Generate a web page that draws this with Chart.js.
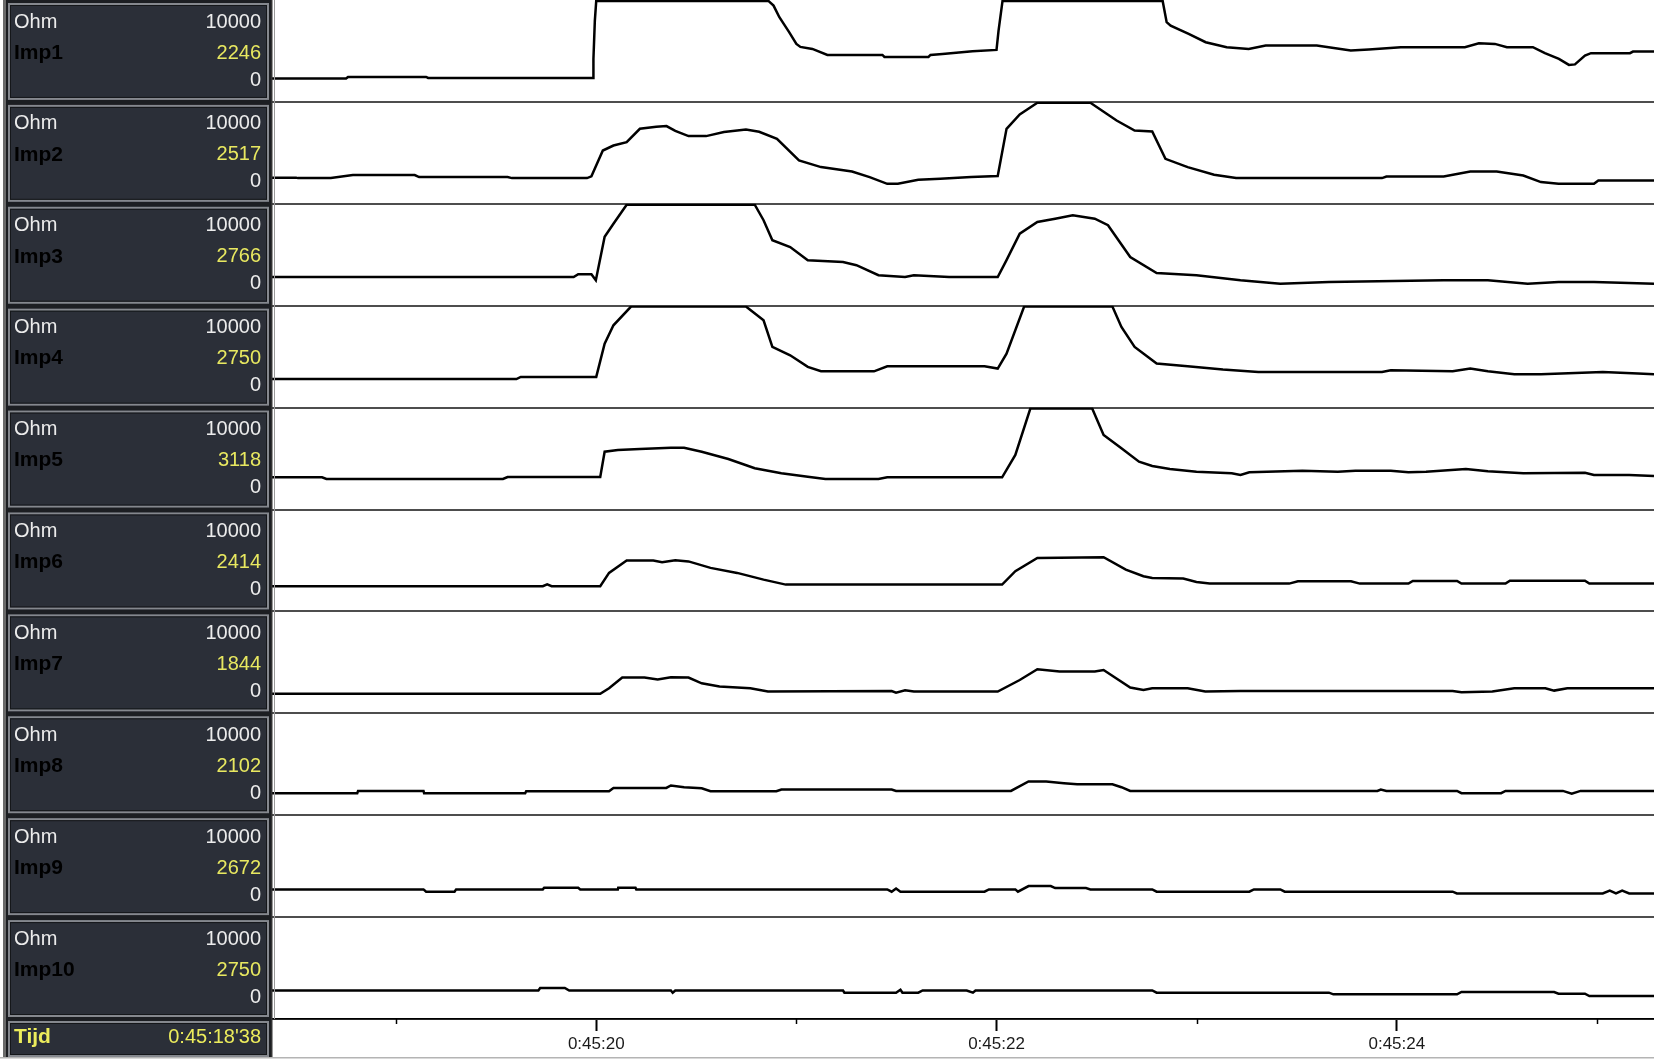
<!DOCTYPE html>
<html><head><meta charset="utf-8">
<script src="https://cdn.jsdelivr.net/npm/chart.js@4.4.1/dist/chart.umd.min.js"></script>
<style>
html,body{margin:0;padding:0;background:#fff;overflow:hidden}
#wrap{position:absolute;left:0;top:0;width:1654px;height:1060px}
</style>
</head><body>
<div id="wrap"><canvas id="c" width="1654" height="1060"></canvas></div>
<script>
// ---------- labels ----------
const channelNames = ['Imp1','Imp2','Imp3','Imp4','Imp5','Imp6','Imp7','Imp8','Imp9','Imp10'];
const unitLabel = 'Ohm';
const scaleTopLabel = '10000';
const scaleBottomLabel = '0';
const cursorValues = ['2246','2517','2766','2750','3118','2414','1844','2102','2672','2750'];
const timeTitle = 'Tijd';
const cursorTime = "0:45:18'38";
const tickSeconds = [19, 20, 21, 22, 23, 24, 25];
const tickLabels  = ['', '0:45:20', '', '0:45:22', '', '0:45:24', ''];
const timeMin = 18.38, timeMax = 25.285;

// ---------- series (time in s after 0:45:00, impedance in Ohm) ----------
const imp1T = [18.38,18.75,18.76,19.15,19.16,19.984,19.986,19.993,20.0,20.86,20.886,20.915,20.963,21.0,21.02,21.08,21.155,21.43,21.44,21.66,21.67,21.73,21.88,22.0,22.01,22.03,22.83,22.85,22.87,22.96,23.045,23.15,23.26,23.345,23.6,23.77,23.86,24.02,24.34,24.41,24.49,24.55,24.68,24.74,24.81,24.86,24.89,24.94,24.97,25.165,25.18,25.285];
const imp1V = [2246,2246,2400,2400,2300,2300,4200,8000,10000,10000,9530,8370,6900,5700,5400,5200,4600,4600,4400,4400,4600,4700,4970,5100,7000,10000,10000,7870,7530,6700,5870,5370,5200,5530,5530,5030,5130,5370,5370,5770,5700,5370,5370,4770,4200,3600,3650,4530,4770,4770,4930,4930];

const imp2T = [18.38,18.50,18.51,18.674,18.784,19.093,19.115,19.557,19.579,19.954,19.976,20.033,20.086,20.152,20.218,20.30,20.351,20.395,20.461,20.549,20.638,20.748,20.814,20.903,21.013,21.123,21.278,21.366,21.454,21.507,21.609,21.719,21.873,22.006,22.05,22.116,22.204,22.469,22.6,22.69,22.778,22.844,22.955,23.087,23.197,23.926,23.948,24.234,24.367,24.499,24.632,24.72,24.808,24.985,25.007,25.285];
const imp2V = [2517,2517,2470,2470,2770,2770,2570,2570,2470,2470,2650,5230,5730,6070,7400,7600,7670,7200,6670,6670,7070,7330,7100,6400,4230,3570,3130,2570,1900,1900,2300,2400,2570,2670,7400,8830,10000,10000,8230,7230,7130,4400,3570,2800,2470,2470,2630,2630,3130,3130,2730,2070,1900,1900,2230,2230];

const imp3T = [18.38,19.887,19.91,19.976,19.998,20.042,20.086,20.152,20.792,20.836,20.88,20.969,21.057,21.233,21.30,21.41,21.543,21.587,21.763,22.006,22.05,22.116,22.204,22.293,22.381,22.491,22.557,22.668,22.80,22.999,23.219,23.418,23.661,24.234,24.455,24.654,24.808,24.985,25.117,25.285];
const imp3V = [2766,2766,3050,3050,2450,6800,8100,10000,10000,8450,6450,5770,4450,4270,3950,2950,2770,2950,2770,2770,4450,7100,8270,8600,8950,8600,7950,4770,3170,2950,2450,2100,2270,2450,2450,2100,2270,2270,2200,2100];

const imp4T = [18.38,19.601,19.623,20.0,20.042,20.086,20.174,20.748,20.836,20.88,20.969,21.057,21.123,21.388,21.454,21.94,22.006,22.05,22.138,22.579,22.624,22.69,22.80,22.955,23.131,23.308,23.926,23.97,24.279,24.367,24.455,24.587,24.72,25.029,25.205,25.285];
const imp4V = [2750,2750,2970,2970,6300,8130,10000,10000,8630,5970,5130,3970,3530,3530,4030,4030,3800,5300,10000,10000,7970,5970,4300,4030,3700,3470,3470,3630,3530,3800,3530,3230,3230,3470,3300,3230];

const imp5T = [18.38,18.63,18.652,19.534,19.557,20.02,20.042,20.108,20.218,20.373,20.439,20.527,20.66,20.792,20.925,21.057,21.145,21.41,21.454,22.028,22.094,22.169,22.478,22.535,22.624,22.712,22.778,22.866,22.999,23.175,23.219,23.263,23.528,23.705,23.793,23.97,24.058,24.146,24.345,24.455,24.632,24.94,24.985,25.161,25.285];
const imp5V = [3118,3118,2950,2950,3150,3150,5680,5850,5950,6080,6080,5680,4950,4020,3520,3180,2950,2950,3120,3120,5350,10000,10000,7350,6020,4680,4250,3950,3680,3520,3350,3620,3780,3680,3780,3780,3620,3680,3950,3720,3520,3580,3350,3350,3250];

const imp6T = [18.38,19.733,19.755,19.777,20.02,20.064,20.152,20.285,20.329,20.395,20.461,20.571,20.704,20.836,20.947,22.028,22.094,22.204,22.535,22.646,22.734,22.778,22.933,22.999,23.065,23.462,23.506,23.771,23.815,24.058,24.08,24.301,24.323,24.543,24.565,24.94,24.962,25.285];
const imp6V = [2414,2414,2600,2414,2414,3750,4980,4980,4820,5020,4900,4250,3750,3080,2580,2580,3920,5250,5320,4080,3420,3250,3180,2850,2680,2680,2920,2920,2680,2680,2950,2950,2680,2680,2970,2970,2680,2680];

const imp7T = [18.38,20.02,20.064,20.13,20.241,20.307,20.373,20.461,20.527,20.616,20.77,20.858,21.476,21.498,21.543,21.587,22.006,22.116,22.204,22.315,22.491,22.535,22.668,22.734,22.778,22.955,23.043,23.219,24.279,24.323,24.477,24.587,24.742,24.786,24.852,25.285];
const imp7V = [1844,1844,2400,3470,3470,3270,3500,3470,2900,2570,2400,2070,2130,1970,2200,2070,2070,3230,4300,4070,4070,4230,2470,2230,2400,2400,2070,2130,2130,2000,2070,2400,2400,2170,2400,2400];

const imp8T = [18.38,18.806,18.81,19.137,19.14,19.645,19.65,20.064,20.086,20.35,20.373,20.439,20.527,20.571,20.90,20.925,21.476,21.498,22.072,22.16,22.248,22.337,22.403,22.579,22.624,22.668,23.903,23.92,23.948,24.301,24.323,24.521,24.543,24.83,24.874,24.918,25.285];
const imp8V = [2102,2102,2330,2330,2100,2100,2300,2300,2630,2630,2870,2700,2600,2300,2300,2470,2470,2330,2330,3270,3270,3100,3000,3000,2700,2330,2330,2470,2330,2330,2100,2100,2330,2330,2050,2330,2330];

const imp9T = [18.38,19.137,19.15,19.292,19.30,19.733,19.74,19.91,19.92,20.108,20.11,20.196,20.20,21.454,21.476,21.498,21.52,21.94,21.962,22.094,22.107,22.16,22.271,22.293,22.447,22.469,22.778,22.80,23.263,23.286,23.418,23.44,24.279,24.30,25.029,25.064,25.095,25.126,25.161,25.285];
const imp9V = [2672,2672,2440,2440,2672,2672,2840,2840,2672,2672,2840,2840,2672,2672,2440,2760,2440,2440,2672,2672,2440,3000,3000,2800,2800,2672,2672,2440,2440,2672,2672,2440,2440,2270,2270,2540,2270,2540,2270,2270];

const imp10T = [18.38,19.711,19.72,19.843,19.865,20.373,20.382,20.395,21.233,21.24,21.498,21.52,21.53,21.609,21.631,21.851,21.882,21.895,22.778,22.80,23.661,23.683,24.301,24.323,24.786,24.808,24.94,24.962,25.285];
const imp10V = [2750,2750,3000,3000,2750,2750,2530,2750,2750,2530,2530,2830,2530,2530,2750,2750,2530,2750,2750,2530,2530,2370,2370,2600,2600,2430,2430,2200,2200];

const seriesT = [imp1T,imp2T,imp3T,imp4T,imp5T,imp6T,imp7T,imp8T,imp9T,imp10T];
const seriesV = [imp1V,imp2V,imp3V,imp4V,imp5V,imp6V,imp7V,imp8V,imp9V,imp10V];

// ---------- chart ----------
const FONT = '"Liberation Sans", Arial, sans-serif';
const datasets = channelNames.map((name, i) => ({
  label: name,
  data: seriesT[i].map((t, j) => ({x: t, y: seriesV[i][j]})),
  yAxisID: 'y' + (i + 1),
  borderColor: '#000',
  borderWidth: 2.5,
  pointRadius: 0,
  tension: 0,
  fill: false
}));

const scales = {
  x: {
    type: 'linear', position: 'bottom', min: timeMin, max: timeMax,
    afterBuildTicks: s => { s.ticks = tickSeconds.map(v => ({value: v})); },
    afterFit: s => { s.height = 41; },
    ticks: {
      autoSkip: false, maxRotation: 0, minRotation: 0, padding: 3, color: '#1a1a1a',
      font: {family: FONT, size: 17},
      callback: (v, i) => tickLabels[i]
    },
    grid: {
      drawOnChartArea: false, drawTicks: true, tickLength: 12, tickWidth: 2,
      tickColor: c => (tickLabels[c.index] ? '#000' : 'rgba(0,0,0,0)')
    },
    border: {display: true, color: '#000', width: 1.5}
  }
};
// left stacked axes: last defined sits on top
for (let i = channelNames.length; i >= 1; i--) {
  scales['y' + i] = {
    type: 'linear', position: 'left', stack: 'panels', stackWeight: 1,
    min: -100, max: 10090,
    ticks: {display: false},
    afterBuildTicks: s => { s.ticks = [{value: s.min}]; },
    afterFit: s => { s.width = 272; },
    grid: {display: true, drawOnChartArea: true, drawTicks: false, color: '#4d4d4d', lineWidth: 2},
    border: {display: false}
  };
}

function drawBox(ctx, x0, y0, x1, y1) {
  ctx.fillStyle = '#2b2f38';
  ctx.fillRect(x0, y0, x1 - x0, y1 - y0);
  ctx.strokeStyle = '#85888e';
  ctx.lineWidth = 2;
  ctx.strokeRect(x0 + 1, y0 + 1, x1 - x0 - 2, y1 - y0 - 2);
  ctx.strokeStyle = '#15171a';
  ctx.lineWidth = 1;
  ctx.strokeRect(x0 + 2.5, y0 + 2.5, x1 - x0 - 5, y1 - y0 - 5);
}

const framePlugin = {
  id: 'frame',
  afterDraw(chart) {
    const ctx = chart.ctx;
    const xs = chart.scales.x;
    ctx.save();
    // minor ticks
    ctx.strokeStyle = '#000';
    ctx.lineWidth = 1.5;
    tickSeconds.forEach((v, i) => {
      if (tickLabels[i]) return;
      const px = Math.round(xs.getPixelForValue(v)) + 0.5;
      ctx.beginPath(); ctx.moveTo(px, xs.top); ctx.lineTo(px, xs.top + 5); ctx.stroke();
    });
    // left column
    const left = chart.chartArea.left;
    ctx.fillStyle = '#1c1e22';
    ctx.fillRect(3, 0, left - 3, 1058);
    ctx.fillStyle = '#6a6a6a';
    ctx.fillRect(3, 0, 3, 1058);
    ctx.fillStyle = '#333';
    ctx.fillRect(left - 1, 0, 1.5, 1058);
    ctx.fillStyle = '#9a9a9a';
    ctx.fillRect(left + 2, 0, 1, 1019);
    channelNames.forEach((name, i) => {
      const s = chart.scales['y' + (i + 1)];
      const top = s.top;
      drawBox(ctx, 8, top + 3, 269, s.bottom - 2);
      ctx.textBaseline = 'middle';
      ctx.font = '20px ' + FONT;
      ctx.fillStyle = '#ececec';
      ctx.textAlign = 'left';
      ctx.fillText(unitLabel, 14, top + 22);
      ctx.textAlign = 'right';
      ctx.fillText(scaleTopLabel, 261, top + 22);
      ctx.fillText(scaleBottomLabel, 261, top + 80);
      ctx.fillStyle = '#e8e860';
      ctx.fillText(cursorValues[i], 261, top + 53);
      ctx.font = 'bold 21px ' + FONT;
      ctx.fillStyle = '#000';
      ctx.textAlign = 'left';
      ctx.fillText(name, 14, top + 53);
    });
    // time box
    drawBox(ctx, 8, xs.top + 2, 269, 1057);
    ctx.textBaseline = 'middle';
    ctx.font = 'bold 21px ' + FONT;
    ctx.fillStyle = '#ecec5c';
    ctx.textAlign = 'left';
    ctx.fillText(timeTitle, 14, 1037);
    ctx.font = '20px ' + FONT;
    ctx.textAlign = 'right';
    ctx.fillText(cursorTime, 261, 1037);
    // bottom edge
    ctx.fillStyle = '#b4b4b4';
    ctx.fillRect(0, 1057, 1654, 1.5);
    ctx.restore();
  }
};

new Chart(document.getElementById('c'), {
  type: 'line',
  data: {datasets},
  options: {
    responsive: false,
    animation: false,
    devicePixelRatio: 1,
    parsing: true,
    layout: {padding: 0},
    plugins: {legend: {display: false}, tooltip: {enabled: false}, title: {display: false}},
    scales
  },
  plugins: [framePlugin]
});
</script>
</body></html>
